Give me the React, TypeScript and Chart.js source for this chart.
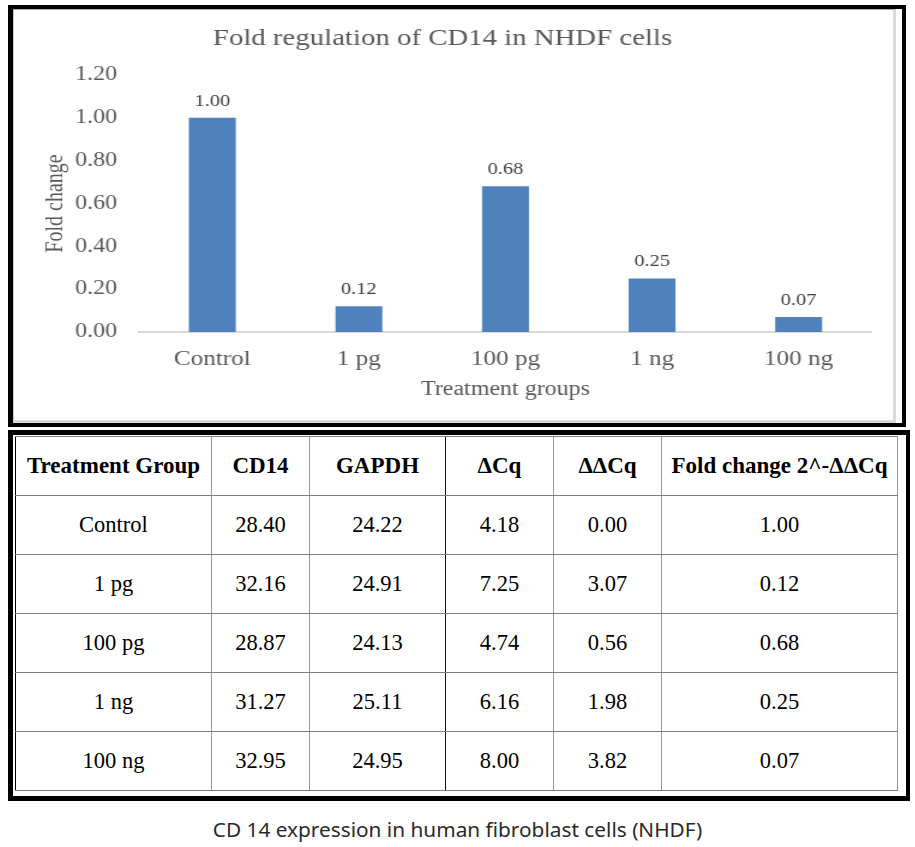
import React, { useEffect, useRef } from "react";
import { Chart, registerables } from "chart.js";

Chart.register(...registerables);

// ---- Chart data ----
const categories = ["Control", "1 pg", "100 pg", "1 ng", "100 ng"];
const foldChange = [1.0, 0.12, 0.68, 0.25, 0.07];
const yMin = 0;
const yMax = 1.2;
const yStep = 0.2;

// ---- Table data ----
const tableHeaders = ["Treatment Group", "CD14", "GAPDH", "ΔCq", "ΔΔCq", "Fold change 2^-ΔΔCq"];
const tableGroups = ["Control", "1 pg", "100 pg", "1 ng", "100 ng"];
const cd14Cq = ["28.40", "32.16", "28.87", "31.27", "32.95"];
const gapdhCq = ["24.22", "24.91", "24.13", "25.11", "24.95"];
const deltaCq = ["4.18", "7.25", "4.74", "6.16", "8.00"];
const deltaDeltaCq = ["0.00", "3.07", "0.56", "1.98", "3.82"];
const foldChangeText = ["1.00", "0.12", "0.68", "0.25", "0.07"];

const chartTitle = "Fold regulation of CD14 in NHDF cells";
const xTitle = "Treatment groups";
const yTitle = "Fold change";
const caption = "CD 14 expression in human fibroblast cells (NHDF)";

const SERIF = '"Liberation Serif", "Times New Roman", serif';
const STRETCH = 1.2;

const dataLabelPlugin = {
  id: "dataLabels",
  afterDatasetsDraw(chart: any) {
    const ctx = chart.ctx;
    const meta = chart.getDatasetMeta(0);
    ctx.save();
    ctx.font = `17px ${SERIF}`;
    ctx.fillStyle = "#404040";
    ctx.textAlign = "center";
    ctx.textBaseline = "middle";
    meta.data.forEach((bar: any, i: number) => {
      ctx.fillText(foldChange[i].toFixed(2), bar.x, bar.y - 16.5);
    });
    ctx.restore();
  },
};

function BarChart() {
  const ref = useRef<HTMLCanvasElement | null>(null);
  useEffect(() => {
    if (!ref.current) return;
    const chart = new Chart(ref.current, {
      type: "bar",
      data: {
        labels: categories,
        datasets: [
          {
            data: foldChange,
            backgroundColor: "#4F81BD",
            borderWidth: 0,
            barPercentage: 0.32,
            categoryPercentage: 1,
          },
        ],
      },
      plugins: [dataLabelPlugin],
      options: {
        animation: false,
        responsive: true,
        maintainAspectRatio: false,
        layout: { padding: { left: 0, right: 17.5, top: 0, bottom: 0 } },
        plugins: {
          legend: { display: false },
          tooltip: { enabled: false },
          title: {
            display: true,
            text: chartTitle,
            color: "#595959",
            font: { family: SERIF, size: 24, weight: "normal" as any },
            padding: { top: 14.6, bottom: 21.6 },
          },
        },
        scales: {
          x: {
            grid: { display: false },
            border: { display: true, color: "#d9d9d9", width: 2 },
            ticks: {
              color: "#595959",
              font: { family: SERIF, size: 21 },
              padding: 6.4,
              maxRotation: 0,
            },
            title: {
              display: true,
              text: xTitle,
              color: "#595959",
              font: { family: SERIF, size: 20 },
              padding: { top: 0, bottom: 18 },
            },
            afterFit(scale: any) {
              scale.height = 88;
            },
          },
          y: {
            min: yMin,
            max: yMax,
            grid: { display: false, drawTicks: false },
            border: { display: false },
            ticks: {
              stepSize: yStep,
              color: "#595959",
              font: { family: SERIF, size: 20 },
              padding: 18.3,
              callback: (v: any) => Number(v).toFixed(2),
            },
            title: {
              display: true,
              text: yTitle,
              color: "#595959",
              font: { family: SERIF, size: 20 },
              padding: { top: 24, bottom: 0 },
            },
            afterFit(scale: any) {
              scale.width = 105;
            },
          },
        },
      },
    });
    return () => chart.destroy();
  }, []);
  return (
    <div
      style={{
        position: "absolute",
        left: 13,
        top: 10,
        width: 880 / STRETCH,
        height: 410,
        transform: `scaleX(${STRETCH})`,
        transformOrigin: "0 0",
      }}
    >
      <canvas ref={ref} />
    </div>
  );
}

const colWidths = [196, 98, 136, 108, 108, 236];

function DataTable() {
  const rows = tableGroups.map((g, i) => [g, cd14Cq[i], gapdhCq[i], deltaCq[i], deltaDeltaCq[i], foldChangeText[i]]);
  const cellStyle = (col: number, header: boolean): React.CSSProperties => ({
    borderTop: "1px solid #7f7f7f",
    borderBottom: "1px solid #7f7f7f",
    borderLeft: col === 0 ? "1px solid #000" : col === 3 ? "1px solid #111" : "1px solid #999",
    borderRight: col === 5 ? "1px solid #999" : undefined,
    textAlign: "center",
    verticalAlign: "middle",
    padding: 0,
    height: 58,
    fontFamily: SERIF,
    fontSize: header ? 23 : 22.5,
    fontWeight: header ? "bold" : "normal",
    color: "#000",
    whiteSpace: "nowrap",
  });
  return (
    <table
      style={{
        position: "absolute",
        left: 15,
        top: 436,
        width: 882,
        height: 354,
        borderCollapse: "collapse",
        tableLayout: "fixed",
      }}
    >
      <colgroup>
        {colWidths.map((w, i) => (
          <col key={i} style={{ width: w }} />
        ))}
      </colgroup>
      <tbody>
        <tr>
          {tableHeaders.map((h, c) => (
            <td key={c} style={cellStyle(c, true)}>
              {h}
            </td>
          ))}
        </tr>
        {rows.map((r, ri) => (
          <tr key={ri}>
            {r.map((v, c) => (
              <td key={c} style={cellStyle(c, false)}>
                {v}
              </td>
            ))}
          </tr>
        ))}
      </tbody>
    </table>
  );
}

export default function App() {
  return (
    <div style={{ position: "absolute", left: 0, top: 0, width: 915, height: 847, background: "#fff" }}>
      {/* chart box */}
      <div
        style={{
          position: "absolute",
          left: 8,
          top: 5,
          width: 898,
          height: 422,
          boxSizing: "border-box",
          borderStyle: "solid",
          borderColor: "#000",
          borderWidth: "4px 4px 4px 5px",
        }}
      >
        <div
          style={{
            position: "absolute",
            left: 0,
            top: 0,
            width: 883,
            height: 414,
            boxSizing: "border-box",
            borderLeft: "1px solid #c8c8c8",
            borderTop: "1px solid #a6a6a6",
            borderRight: "3px solid #d9d9d9",
            borderBottom: "3px solid #d9d9d9",
          }}
        />
      </div>
      <BarChart />
      {/* table box */}
      <div
        style={{
          position: "absolute",
          left: 8,
          top: 430,
          width: 902,
          height: 371,
          boxSizing: "border-box",
          borderStyle: "solid",
          borderColor: "#000",
          borderWidth: "5px 4px 5px 5px",
        }}
      />
      <DataTable />
      <div
        style={{
          position: "absolute",
          left: 0,
          top: 816,
          width: 915,
          textAlign: "center",
          fontFamily: '"Noto Sans", Lato, sans-serif',
          fontSize: 20.8,
          lineHeight: "27px",
          color: "#2a2a2a",
        }}
      >
        {caption}
      </div>
    </div>
  );
}
